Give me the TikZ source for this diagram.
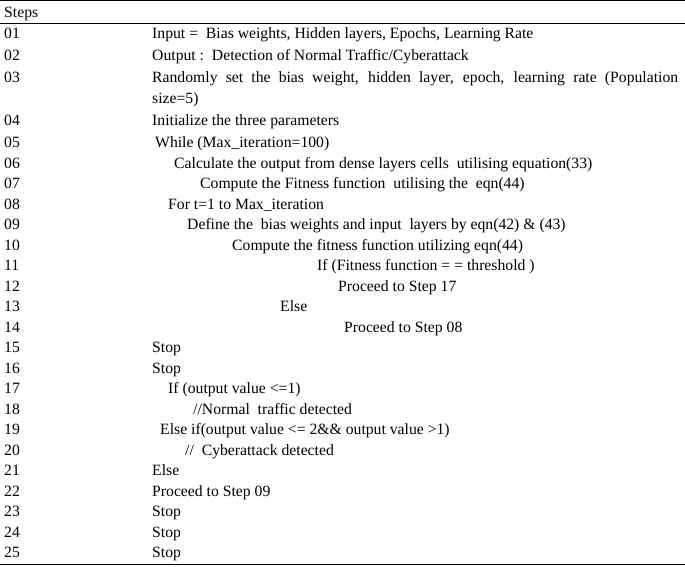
\documentclass[tikz,border=0pt]{standalone}
\usepackage{fontspec}
\setmainfont{Liberation Serif}
\begin{document}
\begin{tikzpicture}[x=1pt,y=-1pt,
  t/.style={anchor=base west,inner sep=0pt,font=\fontsize{15.7}{17}\selectfont}]
\useasboundingbox (0,0) rectangle (685,567);
\draw[line width=1pt] (0,1) -- (685,1);
\draw[line width=0.6pt] (0,23.5) -- (685,23.5);
\draw[line width=1pt] (0,564.5) -- (685,564.5);
\node[t] (h) at (4,18) {Steps};
\foreach \n/\y in {01/39,02/61,03/83,04/126,05/147,06/168,07/188,08/209,09/229,10/250,11/270,12/291,13/311,14/332,15/352,16/373,17/393,18/414,19/434,20/455,21/475,22/496,23/516,24/537,25/557}
  \node[t] (n\n) at (4,\y) {\n};
\node[t] (s01) at (152,39) {Input =\ \ Bias weights, Hidden layers, Epochs, Learning Rate};
\node[t] (s02) at (152,61) {Output :\ \ Detection of Normal Traffic/Cyberattack};
\node[t] (s03) at (152,83) {\makebox[526pt][s]{Randomly set the bias weight, hidden layer, epoch, learning rate (Population}};
\node[t] (s03b) at (152,104) {size=5)};
\node[t] (s04) at (152,126) {Initialize the three parameters};
\node[t] (s05) at (155,147) {While (Max\_iteration=100)};
\node[t] (s06) at (174,168) {Calculate the output from dense layers cells\ \ utilising equation(33)};
\node[t] (s07) at (200,188) {Compute the Fitness function\ \ utilising the\ \ eqn(44)};
\node[t] (s08) at (168,209) {For t=1 to Max\_iteration};
\node[t] (s09) at (187,229) {Define the\ \ bias weights and input\ \ layers by eqn(42) \& (43)};
\node[t] (s10) at (232,250) {Compute the fitness function utilizing eqn(44)};
\node[t] (s11) at (317,270) {If (Fitness function = = threshold )};
\node[t] (s12) at (338,291) {Proceed to Step 17};
\node[t] (s13) at (280,311) {Else};
\node[t] (s14) at (344,332) {Proceed to Step 08};
\node[t] (s15) at (152,352) {Stop};
\node[t] (s16) at (152,373) {Stop};
\node[t] (s17) at (168,393) {If (output value <=1)};
\node[t] (s18) at (193,414) {//Normal\ \ traffic detected};
\node[t] (s19) at (160,434) {Else if(output value <= 2\&\& output value >1)};
\node[t] (s20) at (185,455) {//\ \ Cyberattack detected};
\node[t] (s21) at (152,475) {Else};
\node[t] (s22) at (152,496) {Proceed to Step 09};
\node[t] (s23) at (152,516) {Stop};
\node[t] (s24) at (152,537) {Stop};
\node[t] (s25) at (152,557) {Stop};
\end{tikzpicture}
\end{document}
